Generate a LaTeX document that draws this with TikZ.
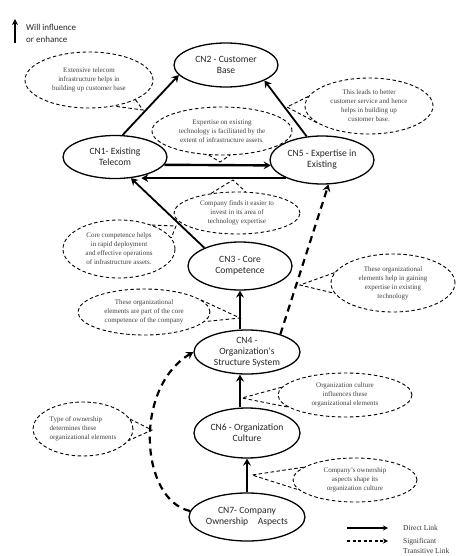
\documentclass[tikz,border=0pt]{standalone}
\usepackage{fontspec}
\setmainfont{Liberation Serif}
\newfontfamily\nodefont{Carlito}
\usetikzlibrary{shapes.geometric,arrows.meta}
\begin{document}
\begin{tikzpicture}[x=1pt,y=-1pt,
  cn/.style={ellipse, draw, line width=1.3pt, minimum width=104pt, minimum height=46pt, inner sep=0pt, align=center, text=black!85, font=\nodefont\fontsize{9.6}{11}\selectfont},
  note/.style={ellipse, draw, dash pattern=on 3.5pt off 2.5pt, line width=0.9pt, inner sep=0pt, align=center, text=black!75, font=\fontsize{7}{9}\selectfont},
  tail/.style={dash pattern=on 3.5pt off 2.5pt, line width=0.9pt},
  link/.style={line width=1.8pt, -{Stealth[length=7pt,width=8pt,inset=2.5pt]}},
  hlink/.style={line width=2.4pt, -{Stealth[length=7pt,width=8pt,inset=2.5pt]}},
  tlink/.style={line width=2.2pt, dash pattern=on 7pt off 5pt, -{Stealth[length=7pt,width=8pt,inset=2.5pt]}},
  legtext/.style={inner sep=0pt, anchor=west, align=left, text=black!80, font=\fontsize{7.5}{10}\selectfont}]
\useasboundingbox (0,0) rectangle (474,556);

% main concept nodes
\node[cn, minimum height=44pt] (cn2) at (226,65) {CN2 - Customer\\Base};
\node[cn, minimum height=43pt] (cn1) at (115,157) {CN1- Existing\\Telecom};
\node[cn, minimum height=48pt] (cn5) at (322,160) {CN5 - Expertise in\\Existing};
\node[cn, minimum height=48pt] (cn3) at (240,266) {CN3 - Core\\Competence};
\node[cn, minimum width=106pt, minimum height=44pt] (cn4) at (247,352) {CN4 -\\Organization's\\Structure System};
\node[cn, minimum width=106pt, minimum height=50pt] (cn6) at (247,433) {CN6 - Organization\\Culture};
\node[cn, minimum width=106pt, minimum height=48pt] (cn7) at (247,517) {CN7- Company\\Ownership\quad Aspects};

% direct links
\draw[link] (cn1.71) -- (cn2.192);
\draw[link] (cn5.123) -- (cn2.338);
\draw[hlink] (cn1.-9) -- (cn5.186);
\draw[hlink] (cn5.207) -- (cn5.207 -| cn1.-36);
\draw[link] (cn3.153) -- (cn1.-53);
\draw[link] ([xshift=-7pt]cn4.north) -- ([xshift=-7pt]cn4.north |- cn3.south);
\draw[link] ([xshift=-7pt]cn6.north) -- ([xshift=-7pt]cn4.south);
\draw[link] (cn7.north) -- (cn6.south);

% transitive links
\draw[tlink] (cn4.28) -- (cn5.-75);
\draw[tlink] (cn7.174) .. controls (140,500) and (133,388) .. (cn4.west);

% callouts
\node[note, minimum width=128pt, minimum height=56pt] (n1) at (89,80) {Extensive telecom\\infrastructure helps in\\building up customer base};
\coordinate (t1) at (143,110);
\draw[tail] (n1.-23) -- (t1) -- (n1.-46);

\node[note, minimum width=128pt, minimum height=56pt] (n2) at (369,106) {This leads to better\\customer service and hence\\helps in building up\\customer base.};
\coordinate (t2) at (287,107);
\draw[tail] (n2.171) -- (t2) -- (n2.200);

\node[note, minimum width=140pt, minimum height=48pt] (n3) at (222,131) {Expertise on existing\\technology is facilitated by the\\extent of infrastructure assets.};
\coordinate (t3) at (220,162);
\draw[tail] (n3.-119) -- (t3) -- (n3.-72);

\node[note, minimum width=126pt, minimum height=42pt] (n4) at (237,213) {Company finds it easier to\\invest in its area of\\technology expertise};
\coordinate (t4) at (233,180);
\draw[tail] (n4.143) -- (t4) -- (n4.68);

\node[note, minimum width=112pt, minimum height=58pt] (n5) at (119,249) {Core competence helps\\in rapid deployment\\and effective operations\\of infrastructure assets.};
\coordinate (t5) at (176,226);
\draw[tail] (n5.36) -- (t5) -- (n5.12);

\node[note, minimum width=132pt, minimum height=46pt] (n6) at (144,312) {These organizational\\elements are part of the core\\competence of the company};
\coordinate (t6) at (240,318);
\draw[tail] (n6.12) -- (t6) -- (n6.-9);

\node[note, minimum width=124pt, minimum height=58pt] (n7) at (393,283) {These organizational\\elements help in gaining\\expertise in existing\\technology};
\coordinate (t7) at (300,285);
\draw[tail] (n7.170) -- (t7) -- (n7.190);

\node[note, minimum width=134pt, minimum height=44pt] (n8) at (345,395) {Organization culture\\influences these\\organizational elements};
\coordinate (t8) at (242,398);
\draw[tail] (n8.173) -- (t8) -- (n8.192);

\node[note, align=left, minimum width=100pt, minimum height=54pt] (n9) at (83,429) {Type of ownership\\determines these\\organizational elements};
\coordinate (t9) at (152,430);
\draw[tail] (n9.12) -- (t9) -- (n9.-14);

\node[note, minimum width=124pt, minimum height=44pt] (n10) at (355,480) {Company's ownership\\aspects shape its\\organization culture};
\coordinate (t10) at (252,475);
\draw[tail] (n10.166) -- (t10) -- (n10.190);

% top-left legend
\coordinate (la1) at (15,43);
\coordinate (la2) at (15,19);
\draw[line width=1.6pt, -{Stealth[length=6pt,width=6pt]}] (la1) -- (la2);
\node[inner sep=0pt, anchor=west, align=left, text=black!85, font=\nodefont\fontsize{9}{12}\selectfont] (lt) at (26,33) {Will influence\\or enhance};

% bottom-right legend
\coordinate (d1) at (347,528);
\coordinate (d2) at (388,528);
\coordinate (s1) at (347,541);
\coordinate (s2) at (388,541);
\draw[line width=1.2pt, -{Stealth[length=5pt,width=5pt]}] (d1) -- (d2);
\draw[line width=1.2pt, dash pattern=on 3pt off 2.5pt, -{Stealth[length=5pt,width=5pt]}] (s1) -- (s2);
\node[legtext] (dl) at (403,528) {Direct Link};
\node[legtext] (sl) at (403,546) {Significant\\Transitive Link};
\end{tikzpicture}
\end{document}
